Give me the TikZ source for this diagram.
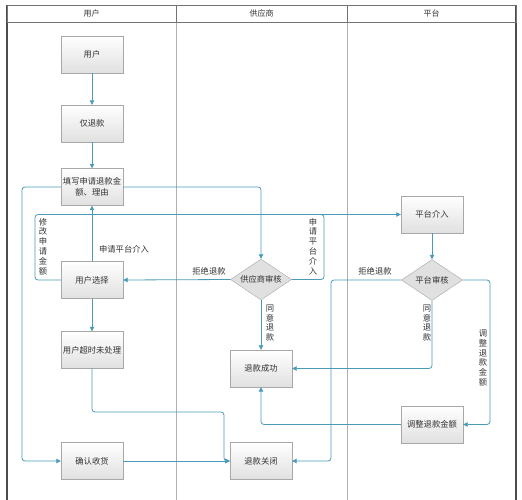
\documentclass[tikz,border=0pt]{standalone}
\usepackage{fontspec}
\setmainfont{Noto Sans CJK SC}
\usetikzlibrary{shapes.geometric,arrows.meta}
\definecolor{flow}{HTML}{4A9BB8}
\definecolor{boxline}{HTML}{A8A8A8}
\definecolor{txt}{HTML}{333333}
\definecolor{lane}{HTML}{B0B0B0}
\tikzset{
  stepbox/.style={rectangle, draw=boxline, top color=white, bottom color=black!12,
    minimum width=62pt, minimum height=37pt, inner sep=1pt, align=center,
    text width=60pt, font=\fontsize{8.3}{11}\selectfont, text=txt},
  decide/.style={diamond, draw=boxline, fill=black!12, aspect=1.5, inner sep=0pt,
    minimum width=61pt, minimum height=41pt, font=\fontsize{8.3}{10}\selectfont, text=txt},
  conn/.style={draw=flow, line width=0.8pt, rounded corners=3pt},
  arr/.style={conn, -{Triangle[length=4.5pt,width=4.5pt]}},
  lbl/.style={font=\fontsize{8.3}{9.8}\selectfont, text=txt, inner sep=0pt, align=center},
  hdr/.style={font=\fontsize{8}{9}\selectfont, text=txt}
}
\begin{document}
\begin{tikzpicture}[x=1pt,y=-1pt]
\useasboundingbox (0,0) rectangle (522,500);
\fill[white] (0,0) rectangle (522,500);
% lanes
\draw[lane, line width=0.7pt] (176,5) -- (176,500);
\draw[lane, line width=0.7pt] (347,5) -- (347,500);
\draw[black!70, line width=1.6pt] (7,5) -- (7,500);
\draw[black!70, line width=1.2pt] (516,5) -- (516,500);
\draw[black!55, line width=0.8pt] (7,5) rectangle (516,22);
\draw[black!55, line width=0.8pt] (176,5) -- (176,22) (347,5) -- (347,22);
\node[hdr] (h1) at (91.5,13.5) {用户};
\node[hdr] (h2) at (261.5,13.5) {供应商};
\node[hdr] (h3) at (431.5,13.5) {平台};
% nodes
\node[stepbox] (u1) at (92,54.5) {用户};
\node[stepbox] (u2) at (92,123.5) {仅退款};
\node[stepbox] (u3) at (92,187) {填写申请退款金\\额、理由};
\node[stepbox] (u4) at (92,280) {用户选择};
\node[stepbox] (u5) at (92,350) {用户超时未处理};
\node[stepbox] (u6) at (92,461) {确认收货};
\node[decide] (s1) at (261,279.5) {供应商审核};
\node[stepbox] (s2) at (261,368.5) {退款成功};
\node[stepbox] (s3) at (261,461) {退款关闭};
\node[stepbox] (p1) at (432,214.5) {平台介入};
\node[decide] (p2) at (432,280) {平台审核};
\node[stepbox] (p3) at (432,424.5) {调整退款金额};
% helper coordinates
\coordinate (j1) at (92,214.5);
\coordinate (lp1) at (35,280);
\coordinate (lp2) at (35,214.5);
\coordinate (lf1) at (22,187);
\coordinate (lf2) at (22,461);
\coordinate (t1) at (92,412);
\coordinate (t2) at (224,412);
\coordinate (t3) at (224,461);
\coordinate (r1) at (324,279.5);
\coordinate (r2) at (324,214.5);
\coordinate (q1) at (331,280);
\coordinate (q2) at (331,461);
\coordinate (a1) at (432,368.5);
\coordinate (b1) at (490,280);
\coordinate (b2) at (490,424.5);
\coordinate (c1) at (261,424.5);
% connectors
\draw[arr] (u1) -- (u2);
\draw[arr] (u2) -- (u3);
\draw[arr] (u3.east) -| (s1.north);
\draw[arr] (s1.west) -- (u4.east);
\draw[arr] (u4.north) -- (u3.south);
\draw[arr] (j1) -- (p1.west);
\draw[conn] (u4.west) -- (lp1) -- (lp2) -- (j1);
\draw[arr] (u3.west) -- (lf1) -- (lf2) -- (u6.west);
\draw[arr] (u4.south) -- (u5.north);
\draw[arr] (u5.south) -- (t1) -- (t2) -- (t3) -- (s3.west);
\draw[arr] (u6.east) -- (s3.west);
\draw[arr] (s1.south) -- (s2.north);
\draw[conn] (s1.east) -- (r1) -- (r2) -- (j1);
\draw[arr] (p1.south) -- (p2.north);
\draw[arr] (p2.west) -- (q1) -- (q2) -- (s3.east);
\draw[arr] (p2.south) -- (a1) -- (s2.east);
\draw[arr] (p2.east) -- (b1) -- (b2) -- (p3.east);
\draw[arr] (p3.west) -- (c1) -- (s2.south);
% labels
\node[lbl] (l1) at (209,271) {拒绝退款};
\node[lbl] (l2) at (124,249) {申请平台介入};
\node[lbl] (l3) at (43,246.5) {修\\改\\申\\请\\金\\额};
\node[lbl] (l4) at (270,323) {同\\意\\退\\款};
\node[lbl] (l5) at (313,246.5) {申\\请\\平\\台\\介\\入};
\node[lbl] (l6) at (375,271) {拒绝退款};
\node[lbl] (l7) at (427,323) {同\\意\\退\\款};
\node[lbl] (l8) at (483,358) {调\\整\\退\\款\\金\\额};
\end{tikzpicture}
\end{document}
